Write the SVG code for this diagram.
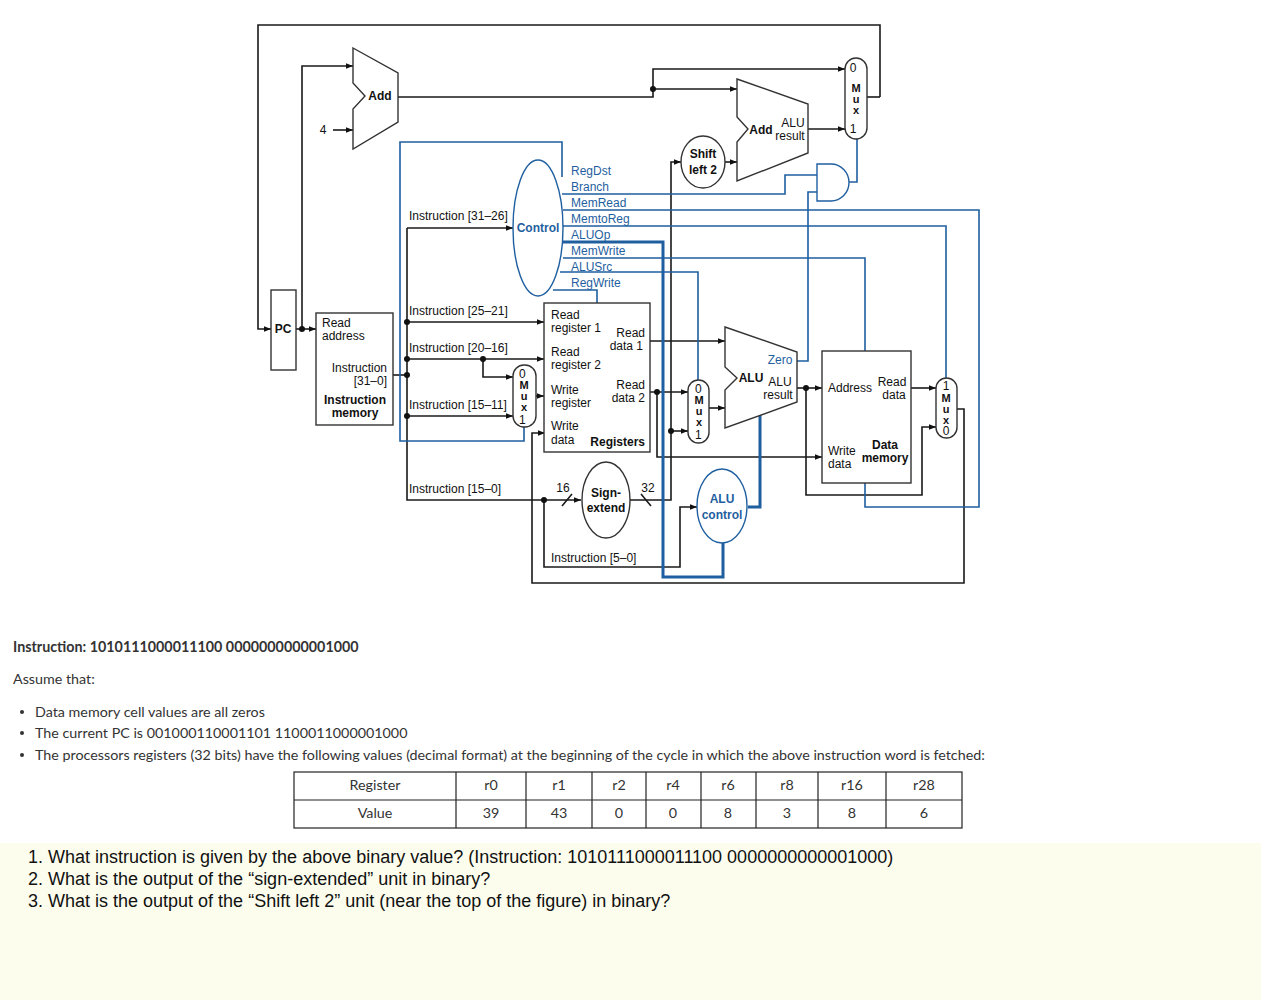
<svg xmlns="http://www.w3.org/2000/svg" width="1261" height="1000" viewBox="0 0 1261 1000">
<defs>
<marker id="ah" viewBox="0 0 10 10" refX="10" refY="5" markerWidth="7" markerHeight="7" orient="auto" markerUnits="userSpaceOnUse"><path d="M0,1 L10,5 L0,9 z" fill="#111"/></marker>
</defs>
<style>
.w{fill:none;stroke:#1a1a1a;stroke-width:1.6}
.b{fill:none;stroke:#1f5fa0;stroke-width:1.6}
.bt{fill:none;stroke:#1f5fa0;stroke-width:3}
.box{fill:#fff;stroke:#333;stroke-width:1.4}
.bl{fill:#fff;stroke:#1f5fa0;stroke-width:1.4}
text{font-family:"Liberation Sans",Arial,sans-serif;font-size:12px;fill:#111}
.bo{font-weight:bold}
.bc{fill:#1f5fa0}
.c{text-anchor:middle}
.r{text-anchor:end}
.m{font-size:11px;font-weight:bold;text-anchor:middle}
.t{font-family:Lato,"Liberation Sans",sans-serif;font-size:14.3px;fill:#333}
.q{font-family:"Liberation Sans",Arial,sans-serif;font-size:18px;fill:#111}
.dot{fill:#111}
</style>
<rect x="0" y="843" width="1261" height="157" fill="#fdfdee"/>
<g id="connectors">
<polyline class="w" points="880,97 880,25 258,25 258,329 271,329" marker-end="url(#ah)"/>
<polyline class="w" points="296,329 316,329" marker-end="url(#ah)"/>
<polyline class="w" points="302,329 302,66 353,66" marker-end="url(#ah)"/>
<polyline class="w" points="333,130 353,130" marker-end="url(#ah)"/>
<polyline class="w" points="398,97 653,97 653,69 845,69" marker-end="url(#ah)"/>
<polyline class="w" points="653,89 737,89" marker-end="url(#ah)"/>
<polyline class="w" points="808,129 845,129" marker-end="url(#ah)"/>
<polyline class="w" points="867,97 880,97"/>
<polyline class="w" points="725,162 737,162" marker-end="url(#ah)"/>
<polyline class="w" points="630,500 671,500 671,162 681,162" marker-end="url(#ah)"/>
<polyline class="w" points="671,431 688,431" marker-end="url(#ah)"/>
<polyline class="w" points="393,375 407,375"/>
<polyline class="w" points="407,228 513,228" marker-end="url(#ah)"/>
<polyline class="w" points="407,228 407,500 581,500" marker-end="url(#ah)"/>
<polyline class="w" points="407,322 544,322" marker-end="url(#ah)"/>
<polyline class="w" points="407,359 544,359" marker-end="url(#ah)"/>
<polyline class="w" points="483,359 483,377 513,377" marker-end="url(#ah)"/>
<polyline class="w" points="407,416 513,416" marker-end="url(#ah)"/>
<polyline class="w" points="536,396 544,396" marker-end="url(#ah)"/>
<polyline class="w" points="544,500 544,567 680,567 680,507 697,507" marker-end="url(#ah)"/>
<polyline class="w" points="650,341 725,341" marker-end="url(#ah)"/>
<polyline class="w" points="650,392 688,392" marker-end="url(#ah)"/>
<polyline class="w" points="657,392 657,457 822,457" marker-end="url(#ah)"/>
<polyline class="w" points="709,408 725,408" marker-end="url(#ah)"/>
<polyline class="w" points="797,388 822,388" marker-end="url(#ah)"/>
<polyline class="w" points="806,388 806,495 922,495 922,427 936,427" marker-end="url(#ah)"/>
<polyline class="w" points="911,388 936,388" marker-end="url(#ah)"/>
<polyline class="w" points="957,409 964,409 964,583 532,583 532,433 545,433" marker-end="url(#ah)"/>
<line class="w" x1="562" y1="506" x2="572" y2="494"/>
<line class="w" x1="641" y1="494" x2="651" y2="506"/>
<polyline class="b" points="562,177 562,142 400,142 400,441 524,441 524,427"/>
<polyline class="b" points="562,194 785,194 785,175 817,175"/>
<polyline class="b" points="563,210 979,210 979,507 865,507 865,483"/>
<polyline class="b" points="563,226 946,226 946,378"/>
<polyline class="bt" points="563,242 663,242 663,577 723,577 723,543"/>
<polyline class="b" points="563,258 865,258 865,351"/>
<polyline class="b" points="560,272 698,272 698,380"/>
<polyline class="b" points="553,290 597,290 597,303"/>
<polyline class="b" points="797,361 808,361 808,192 817,192"/>
<polyline class="b" points="849,182 857,182 857,138"/>
<polyline class="bt" points="748,507 760,507 760,415"/>
<circle class="dot" cx="302" cy="329" r="3"/>
<circle class="dot" cx="653" cy="89" r="3"/>
<circle class="dot" cx="407" cy="322" r="3"/>
<circle class="dot" cx="407" cy="359" r="3"/>
<circle class="dot" cx="407" cy="375" r="3"/>
<circle class="dot" cx="407" cy="416" r="3"/>
<circle class="dot" cx="483" cy="359" r="3"/>
<circle class="dot" cx="544" cy="500" r="3"/>
<circle class="dot" cx="657" cy="392" r="3"/>
<circle class="dot" cx="671" cy="431" r="3"/>
<circle class="dot" cx="806" cy="388" r="3"/>
</g>
<g id="pc"><rect class="box" x="271" y="290" width="25" height="80"/><text x="283" y="333" class="c bo">PC</text></g>
<g id="add4"><path class="box" d="M353,48 L398,73 L398,122 L353,149 L353,109 L365,96 L353,83 Z"/><text x="380" y="100" class="c bo">Add</text><text x="323" y="134" class="c">4</text></g>
<g id="imem"><rect class="box" x="316" y="313" width="77" height="112"/>
<text x="322" y="327">Read</text><text x="322" y="340">address</text>
<text x="387" y="372" class="r">Instruction</text><text x="387" y="385" class="r">[31–0]</text>
<text x="355" y="404" class="c bo">Instruction</text><text x="355" y="417" class="c bo">memory</text></g>
<g id="control"><ellipse class="bl" cx="538" cy="228" rx="25" ry="68"/><text x="538" y="232" class="c bo bc">Control</text>
<text x="571" y="175" class="bc">RegDst</text><text x="571" y="191" class="bc">Branch</text><text x="571" y="207" class="bc">MemRead</text><text x="571" y="223" class="bc">MemtoReg</text><text x="571" y="239" class="bc">ALUOp</text><text x="571" y="255" class="bc">MemWrite</text><text x="571" y="271" class="bc">ALUSrc</text><text x="571" y="287" class="bc">RegWrite</text></g>
<g id="ilabels"><text x="409" y="220">Instruction [31–26]</text><text x="409" y="315">Instruction [25–21]</text><text x="409" y="352">Instruction [20–16]</text><text x="409" y="409">Instruction [15–11]</text><text x="409" y="493">Instruction [15–0]</text><text x="551" y="562">Instruction [5–0]</text></g>
<g id="mux0"><rect class="box" x="513" y="365" width="23" height="62" rx="11"/><text x="519" y="378" font-size="11">0</text><text x="524" y="389" class="m">M</text><text x="524" y="400" class="m">u</text><text x="524" y="411" class="m">x</text><text x="519" y="424" font-size="11">1</text></g>
<g id="regs"><rect class="box" x="544" y="303" width="106" height="149"/>
<text x="551" y="319">Read</text><text x="551" y="332">register 1</text><text x="645" y="337" class="r">Read</text><text x="643" y="350" class="r">data 1</text>
<text x="551" y="356">Read</text><text x="551" y="369">register 2</text><text x="645" y="389" class="r">Read</text><text x="645" y="402" class="r">data 2</text>
<text x="551" y="394">Write</text><text x="551" y="407">register</text><text x="551" y="430">Write</text><text x="551" y="444">data</text><text x="645" y="446" class="r bo">Registers</text></g>
<g id="signext"><ellipse class="box" cx="606" cy="500" rx="24" ry="38"/><text x="606" y="497" class="c bo">Sign-</text><text x="606" y="512" class="c bo">extend</text><text x="563" y="492" class="c">16</text><text x="648" y="492" class="c">32</text></g>
<g id="shift"><ellipse class="box" cx="703" cy="162" rx="22" ry="26"/><text x="703" y="158" class="c bo">Shift</text><text x="703" y="174" class="c bo">left 2</text></g>
<g id="addbr"><path class="box" d="M737,79 L808,104 L808,153 L737,181 L737,142 L748,129 L737,117 Z"/><text x="761" y="134" class="c bo">Add</text><text x="793" y="127" class="c">ALU</text><text x="790" y="140" class="c">result</text></g>
<g id="muxpc"><rect class="box" x="845" y="58" width="22" height="81" rx="11"/><text x="853" y="72" class="c" font-size="11">0</text><text x="856" y="92" class="m">M</text><text x="856" y="103" class="m">u</text><text x="856" y="114" class="m">x</text><text x="853" y="133" class="c" font-size="11">1</text></g>
<g id="andg"><path class="bl" d="M817,164 L831,164 A18,18.5 0 0 1 831,201 L817,201 Z"/></g>
<g id="mux1"><rect class="box" x="688" y="380" width="21" height="63" rx="10.5"/><text x="695" y="393" font-size="11">0</text><text x="699" y="404" class="m">M</text><text x="699" y="415" class="m">u</text><text x="699" y="426" class="m">x</text><text x="695" y="439" font-size="11">1</text></g>
<g id="alu"><path class="box" d="M725,327 L797,352 L797,402 L725,428 L725,390 L737,378 L725,367 Z"/><text x="780" y="364" class="c bc">Zero</text><text x="751" y="382" class="c bo">ALU</text><text x="780" y="386" class="c">ALU</text><text x="778" y="399" class="c">result</text></g>
<g id="aluctl"><ellipse class="bl" cx="722" cy="506" rx="25" ry="37"/><text x="722" y="503" class="c bo bc">ALU</text><text x="722" y="519" class="c bo bc">control</text></g>
<g id="dmem"><rect class="box" x="822" y="351" width="89" height="132"/><text x="828" y="392">Address</text><text x="892" y="386" class="c">Read</text><text x="894" y="399" class="c">data</text><text x="828" y="455">Write</text><text x="828" y="468">data</text><text x="885" y="449" class="c bo">Data</text><text x="885" y="462" class="c bo">memory</text></g>
<g id="mux2"><rect class="box" x="936" y="378" width="21" height="60" rx="10.5"/><text x="946" y="390" class="c" font-size="11">1</text><text x="946" y="402" class="m">M</text><text x="946" y="413" class="m">u</text><text x="946" y="424" class="m">x</text><text x="946" y="435" class="c" font-size="11">0</text></g>
<g id="text">
<text x="13" y="652" class="t" style="font-weight:bold">Instruction: 1010111000011100 0000000000001000</text>
<text x="13" y="684" class="t">Assume that:</text>
<circle cx="22" cy="712" r="2" fill="#333"/><text x="35" y="717" class="t">Data memory cell values are all zeros</text>
<circle cx="22" cy="733" r="2" fill="#333"/><text x="35" y="738" class="t">The current PC is 001000110001101 1100011000001000</text>
<circle cx="22" cy="755" r="2" fill="#333"/><text x="35" y="760" class="t">The processors registers (32 bits) have the following values (decimal format) at the beginning of the cycle in which the above instruction word is fetched:</text>
</g>
<g id="table" stroke="#222" stroke-width="1.2">
<rect x="294" y="772" width="668" height="56" fill="none"/>
<line x1="294" y1="800" x2="962" y2="800"/>
<line x1="456" y1="772" x2="456" y2="828"/><line x1="526" y1="772" x2="526" y2="828"/><line x1="592" y1="772" x2="592" y2="828"/><line x1="646" y1="772" x2="646" y2="828"/><line x1="701" y1="772" x2="701" y2="828"/><line x1="756" y1="772" x2="756" y2="828"/><line x1="818" y1="772" x2="818" y2="828"/><line x1="886" y1="772" x2="886" y2="828"/>
</g>
<g id="tabletext">
<text x="375" y="790" class="t" text-anchor="middle">Register</text><text x="491" y="790" class="t" text-anchor="middle">r0</text><text x="559" y="790" class="t" text-anchor="middle">r1</text><text x="619" y="790" class="t" text-anchor="middle">r2</text><text x="673" y="790" class="t" text-anchor="middle">r4</text><text x="728" y="790" class="t" text-anchor="middle">r6</text><text x="787" y="790" class="t" text-anchor="middle">r8</text><text x="852" y="790" class="t" text-anchor="middle">r16</text><text x="924" y="790" class="t" text-anchor="middle">r28</text>
<text x="375" y="818" class="t" text-anchor="middle">Value</text><text x="491" y="818" class="t" text-anchor="middle">39</text><text x="559" y="818" class="t" text-anchor="middle">43</text><text x="619" y="818" class="t" text-anchor="middle">0</text><text x="673" y="818" class="t" text-anchor="middle">0</text><text x="728" y="818" class="t" text-anchor="middle">8</text><text x="787" y="818" class="t" text-anchor="middle">3</text><text x="852" y="818" class="t" text-anchor="middle">8</text><text x="924" y="818" class="t" text-anchor="middle">6</text>
</g>
<g id="questions">
<text x="28" y="863" class="q">1. What instruction is given by the above binary value? (Instruction: 1010111000011100 0000000000001000)</text>
<text x="28" y="885" class="q">2. What is the output of the “sign-extended” unit in binary?</text>
<text x="28" y="907" class="q">3. What is the output of the “Shift left 2” unit (near the top of the figure) in binary?</text>
</g>
</svg>
